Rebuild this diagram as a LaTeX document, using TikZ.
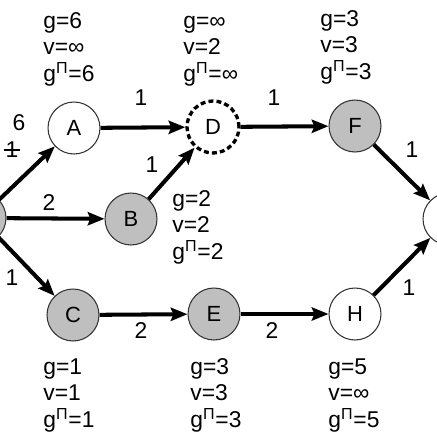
\documentclass[tikz,border=0pt]{standalone}
\usepackage{fontspec}
\setmainfont{Liberation Sans}
\usetikzlibrary{arrows.meta}
\begin{document}
\begin{tikzpicture}[x=0.02cm,y=-0.02cm,
    vtx/.style={circle,draw=black!80,line width=0.6pt,minimum size=1.04cm,inner sep=0pt,font=\fontsize{12.5}{15}\selectfont},
    done/.style={vtx,fill=black!25},
    todo/.style={vtx,fill=white},
    edge/.style={-{Stealth[length=9.5pt,width=7.5pt,inset=1.5pt]},line width=2.3pt},
    info/.style={align=left,anchor=base west,inner sep=0pt,font=\fontsize{13}{15}\selectfont},
    wt/.style={inner sep=0pt,font=\fontsize{13}{15}\selectfont}]
    \clip (0,0) rectangle (437,437);
    % vertices
    \node[done] (S) at (-20,218) {};
    \node[todo] (A) at (74,128) {A};
    \node[done] (B) at (131,219) {B};
    \node[done] (C) at (73,315) {C};
    \node[vtx,draw=black,line width=1.9pt,dash pattern=on 2.8pt off 1.8pt] (D) at (213,127) {D};
    \node[done] (E) at (214,314) {E};
    \node[done] (F) at (355,126) {F};
    \node[todo] (H) at (355,314) {H};
    \node[todo] (G) at (449,219) {};
    % g, v, g^Pi (anchored at the last line)
    \node[info] (iA) at (43,81) {g=6\\v=∞\\g\textsuperscript{Π}=6};
    \node[info] (iD) at (183,81) {g=∞\\v=2\\g\textsuperscript{Π}=∞};
    \node[info] (iF) at (320,79) {g=3\\v=3\\g\textsuperscript{Π}=3};
    \node[info] (iB) at (172,259) {g=2\\v=2\\g\textsuperscript{Π}=2};
    \node[info] (iC) at (43,427) {g=1\\v=1\\g\textsuperscript{Π}=1};
    \node[info] (iE) at (190,427) {g=3\\v=3\\g\textsuperscript{Π}=3};
    \node[info] (iH) at (328,427) {g=5\\v=∞\\g\textsuperscript{Π}=5};
    % edges
    \draw[edge] (S) -- (A);
    \draw[edge] (S) -- (B);
    \draw[edge] (S) -- (C);
    \draw[edge] (A) -- (D);
    \draw[edge] (B) -- (D);
    \draw[edge] (D) -- (F);
    \draw[edge] (C) -- (E);
    \draw[edge] (E) -- (H);
    \draw[edge] (F) -- (G);
    \draw[edge] (H) -- (G);
    % weights
    \node[wt] (wSA) at (19,123) {6};
    \node[wt] (wSAold) at (12,150) {1};
    \draw[line width=0.6pt] ([xshift=-1pt]wSAold.west) -- ([xshift=1pt]wSAold.east); % old weight struck out
    \node[wt] (wSB) at (49,203) {2};
    \node[wt] (wSC) at (12,278) {1};
    \node[wt] (wAD) at (141,98) {1};
    \node[wt] (wBD) at (152,165) {1};
    \node[wt] (wDF) at (274,98) {1};
    \node[wt] (wCE) at (141,331) {2};
    \node[wt] (wEH) at (272,331) {2};
    \node[wt] (wFG) at (412,150) {1};
    \node[wt] (wHG) at (409,288) {1};
\end{tikzpicture}
\end{document}
